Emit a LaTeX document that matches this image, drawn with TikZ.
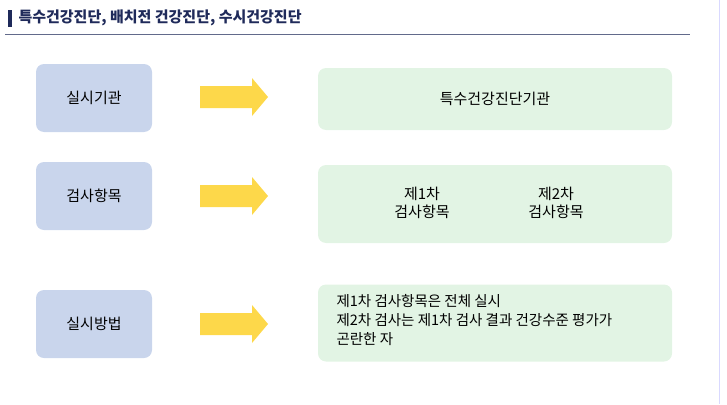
\documentclass[tikz,border=0pt]{standalone}
\usepackage{fontspec}
\setmainfont{Noto Sans CJK KR}
\definecolor{leftfill}{HTML}{C9D5EC}
\definecolor{rightfill}{HTML}{E2F4E4}
\definecolor{arrowfill}{HTML}{FDD84A}
\definecolor{navy}{HTML}{1F2A5A}
\tikzset{
  leftbox/.style={fill=leftfill, rounded corners=8pt, minimum width=116pt, minimum height=68pt, font=\fontsize{15}{18}\selectfont},
  rightbox/.style={fill=rightfill, rounded corners=8pt, minimum width=354pt, font=\fontsize{15}{18}\selectfont},
  bigarrow/.style={fill=arrowfill}
}
\begin{document}
\begin{tikzpicture}[x=1pt,y=-1pt]
  \useasboundingbox (0,0) rectangle (727,404);

  % title
  \fill[navy] (8,10) rectangle (12,27);
  \node[anchor=west, font=\fontsize{15}{18}\selectfont\bfseries, text=navy] (title) at (15,18) {특수건강진단, 배치전 건강진단, 수시건강진단};
  \draw[navy!70, line width=0.6pt] (5,34) -- (690,34);
  \draw[blue!15, line width=1pt] (719,0) -- (719,404);

  % rows
  \node[leftbox] (who) at (94,98) {실시기관};
  \node[leftbox] (what) at (94,196) {검사항목};
  \node[leftbox] (how) at (94,324) {실시방법};

  \node[rightbox, minimum height=62pt] (org) at (495,99) {특수건강진단기관};
  \node[rightbox, minimum height=78pt] (items) at (495,204) {};
  \node[align=center, font=\fontsize{15}{18}\selectfont] (first) at (422,203) {제1차\\검사항목};
  \node[align=center, font=\fontsize{15}{18}\selectfont] (second) at (556,203) {제2차\\검사항목};
  \node[rightbox, minimum height=77pt] (method) at (495,323) {};
  \node[anchor=west, align=left, font=\fontsize{14.5}{19}\selectfont] (methodtxt) at (333,320) {제1차 검사항목은 전체 실시\\제2차 검사는 제1차 검사 결과 건강수준 평가가\\곤란한 자};

  % arrows
  \foreach \y in {97,196,324}{
    \fill[bigarrow] (200,\y-11) -- (252,\y-11) -- (252,\y-19) -- (268,\y) -- (252,\y+19) -- (252,\y+11) -- (200,\y+11) -- cycle;
  }
\end{tikzpicture}
\end{document}
